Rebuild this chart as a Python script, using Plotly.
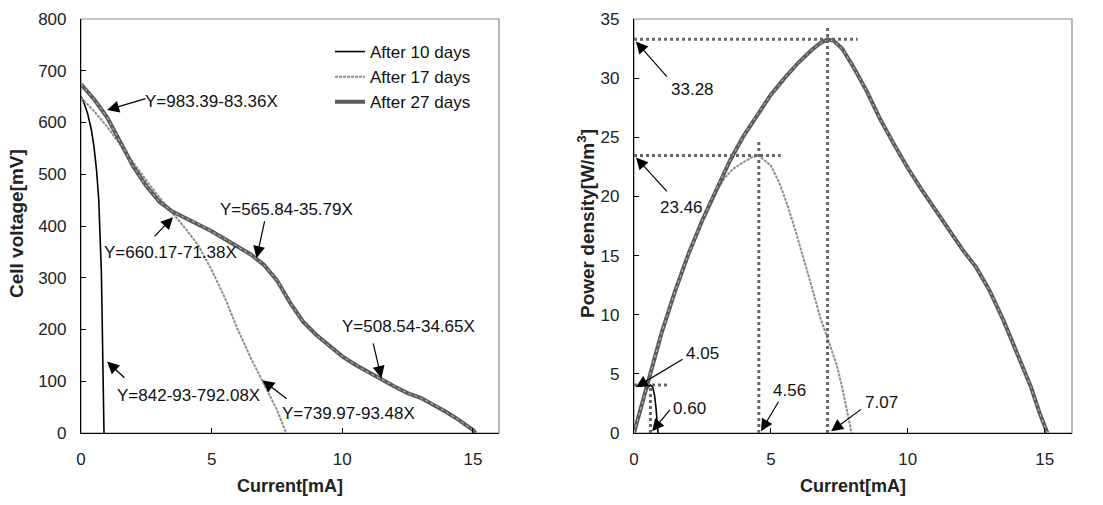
import plotly.graph_objects as go

# ---------------- data ----------------
# Left: cell voltage (mV) vs current (mA)
i10 = [0, 0.1, 0.25, 0.4, 0.5, 0.6, 0.68, 0.74, 0.78, 0.81, 0.83, 0.85, 0.87, 0.88]
v10 = [650, 640, 618, 585, 552, 505, 450, 385, 310, 220, 150, 128, 60, 0]

i17 = [0, 0.5, 1, 1.5, 2, 2.5, 3, 3.5, 4, 4.5, 5, 5.5, 6, 6.5, 7, 7.5, 7.85]
v17 = [648, 622, 592, 557, 522, 488, 455, 425, 395, 362, 315, 262, 200, 145, 95, 45, 0]

i27 = [0, 0.5, 1, 1.5, 2, 2.5, 3, 3.5, 4, 4.5, 5, 5.5, 6, 6.5, 7, 7.5, 8, 8.5, 9,
       9.5, 10, 10.5, 11, 11.5, 12, 12.5, 13, 13.5, 14, 14.5, 15, 15.1]
v27 = [674, 645, 610, 562, 515, 477, 447, 428, 415, 404, 390, 375, 360, 345, 325, 295,
       252, 215, 190, 168, 148, 132, 117, 104, 90, 77, 68, 55, 40, 24, 6, 0]

# Right: power density (W/m3) vs current (mA)
pi10 = [0, 0.1, 0.2, 0.3, 0.4, 0.5, 0.6, 0.68, 0.75, 0.8, 0.84, 0.88]
pd10 = [0, 1.0, 1.9, 2.7, 3.4, 3.85, 4.05, 3.9, 3.2, 2.2, 1.2, 0]

pi17 = [0, 0.5, 1, 1.5, 2, 2.5, 3, 3.3, 3.6, 4, 4.3, 4.56, 5, 5.3, 5.6, 5.9, 6.2, 6.5,
        6.8, 7.1, 7.4, 7.6, 7.8, 7.95]
pd17 = [0, 4.2, 8.3, 11.9, 15.1, 17.9, 20.4, 21.5, 22.3, 22.9, 23.3, 23.46, 22.6, 21.2,
        19.3, 17.1, 14.8, 12.3, 9.8, 7.8, 5.8, 3.9, 1.8, 0]

pi27 = [0, 0.5, 1, 1.5, 2, 2.5, 3, 3.5, 4, 4.5, 5, 5.5, 6, 6.5, 6.8, 7.07, 7.3, 7.6, 8,
        8.5, 9, 9.5, 10, 10.5, 11, 11.5, 12, 12.5, 13, 13.5, 14, 14.5, 14.8, 15.1]
pd27 = [0, 4.3, 8.4, 12.0, 15.2, 18.0, 20.6, 23.0, 25.1, 26.9, 28.6, 30.0, 31.3, 32.4,
        32.95, 33.28, 33.15, 32.5, 31.0, 28.9, 26.5, 24.4, 22.4, 20.6, 18.9, 17.2, 15.5,
        14.0, 12.0, 9.5, 6.7, 3.9, 1.8, 0]

# Peak (maximum power) points
peak_i = [0.60, 4.56, 7.07]
peak_p = [4.05, 23.46, 33.28]
peak_i_labels = ["0.60", "4.56", "7.07"]
peak_p_labels = ["4.05", "23.46", "33.28"]

series_names = ["After 10 days", "After 17 days", "After 27 days"]
fit_labels = ["Y=983.39-83.36X", "Y=565.84-35.79X", "Y=660.17-71.38X",
              "Y=508.54-34.65X", "Y=842-93-792.08X", "Y=739.97-93.48X"]

x_ticks = [0, 5, 10, 15]
v_ticks = [0, 100, 200, 300, 400, 500, 600, 700, 800]
p_ticks = [0, 5, 10, 15, 20, 25, 30, 35]

# ---------------- figure ----------------
FONT = "Liberation Sans, Arial, sans-serif"
W, H = 1103, 505
fig = go.Figure()

C10, C17, C27 = "#000000", "#8e8e8e", "#5a5a5a"
D17 = "3px,1px"

# left panel
fig.add_trace(go.Scatter(x=i10, y=v10, mode="lines", name=series_names[0],
                         line=dict(color=C10, width=1.6), xaxis="x", yaxis="y"))
fig.add_trace(go.Scatter(x=i17, y=v17, mode="lines", name=series_names[1],
                         line=dict(color=C17, width=2, dash=D17), xaxis="x", yaxis="y"))
fig.add_trace(go.Scatter(x=i27, y=v27, mode="lines", name=series_names[2],
                         line=dict(color=C27, width=4), xaxis="x", yaxis="y"))
fig.add_trace(go.Scatter(x=i27, y=v27, mode="lines", showlegend=False, hoverinfo="skip",
                         line=dict(color="#c8c8c8", width=1, dash="dot"), xaxis="x", yaxis="y"))

# right panel
fig.add_trace(go.Scatter(x=pi10, y=pd10, mode="lines", showlegend=False,
                         line=dict(color=C10, width=1.6), xaxis="x2", yaxis="y2"))
fig.add_trace(go.Scatter(x=pi17, y=pd17, mode="lines", showlegend=False,
                         line=dict(color=C17, width=2, dash=D17), xaxis="x2", yaxis="y2"))
fig.add_trace(go.Scatter(x=pi27, y=pd27, mode="lines", showlegend=False,
                         line=dict(color=C27, width=4), xaxis="x2", yaxis="y2"))
fig.add_trace(go.Scatter(x=pi27, y=pd27, mode="lines", showlegend=False, hoverinfo="skip",
                         line=dict(color="#c8c8c8", width=1, dash="dot"), xaxis="x2", yaxis="y2"))

# dotted guide lines at the peaks
h_ext = [0.68, 0.8, 1.1]    # how far horizontal guides extend past the peak
v_ext = [0.0, 1.3, 1.1]     # how far vertical guides extend above the peak
for k in range(3):
    fig.add_trace(go.Scatter(x=[0, peak_i[k] + h_ext[k]], y=[peak_p[k], peak_p[k]], mode="lines",
                             showlegend=False, hoverinfo="skip",
                             line=dict(color="#666666", width=3, dash="dot"),
                             xaxis="x2", yaxis="y2"))
    fig.add_trace(go.Scatter(x=[peak_i[k], peak_i[k]], y=[0, peak_p[k] + v_ext[k]], mode="lines",
                             showlegend=False, hoverinfo="skip",
                             line=dict(color="#666666", width=3, dash="dot"),
                             xaxis="x2", yaxis="y2"))

L_DOM = [81 / W, 499 / W]
R_DOM = [634 / W, 1072 / W]
Y_DOM = [(H - 433) / H, (H - 19) / H]

axis_common = dict(showgrid=False, zeroline=False, ticks="inside", ticklen=5,
                   tickcolor="#000", showline=True, linecolor="#000", linewidth=1.2,
                   automargin=False, ticklabelstandoff=10,
                   tickfont=dict(family=FONT, size=17, color="#222"))

fig.update_layout(
    template="none",
    width=W, height=H, margin=dict(l=0, r=0, t=0, b=0, pad=0),
    paper_bgcolor="white", plot_bgcolor="white",
    font=dict(family=FONT, size=17, color="#000"),
    xaxis=dict(domain=L_DOM, range=[0, 16], tickvals=x_ticks, anchor="y", **axis_common),
    yaxis=dict(domain=Y_DOM, range=[0, 800], tickvals=v_ticks, anchor="x", **axis_common),
    xaxis2=dict(domain=R_DOM, range=[0, 16], tickvals=x_ticks, anchor="y2", **axis_common),
    yaxis2=dict(domain=Y_DOM, range=[0, 35], tickvals=p_ticks, anchor="x2", **axis_common),
    legend=dict(x=330 / W, y=1 - 34 / H, xanchor="left", yanchor="top",
                bgcolor="rgba(0,0,0,0)", font=dict(family=FONT, size=17, color="#111"),
                itemwidth=30, tracegroupgap=0),
    showlegend=True,
)

# gray frame (top/right) for each panel
for xr, yr in (("x domain", "y domain"), ("x2 domain", "y2 domain")):
    fig.add_shape(type="rect", xref=xr, yref=yr, x0=0, x1=1, y0=0, y1=1,
                  line=dict(color="#8a8a8a", width=1.2), layer="below")

ann = []
# axis titles
for dom in (L_DOM, R_DOM):
    ann.append(dict(text="<b>Current[mA]</b>", xref="paper", yref="paper",
                    x=(dom[0] + dom[1]) / 2, y=1 - 486 / H, xanchor="center", yanchor="middle",
                    showarrow=False, font=dict(family=FONT, size=18, color="#222")))
ann.append(dict(text="<b>Cell voltage[mV]</b>", xref="paper", yref="paper",
                x=17 / W, y=1 - 224 / H, xanchor="center", yanchor="middle",
                showarrow=False, textangle=-90,
                font=dict(family=FONT, size=19, color="#222")))
ann.append(dict(text="<b>Power density[W/m<sup>3</sup>]</b>", xref="paper", yref="paper",
                x=586 / W, y=1 - 224 / H, xanchor="center", yanchor="middle",
                showarrow=False, textangle=-90,
                font=dict(family=FONT, size=19, color="#222")))

# fit-equation labels in the left panel: (text pos), (arrow tail), (arrow head)
fit_text_pos = [(5.01, 640), (7.88, 431), (3.41, 348), (12.53, 205), (4.11, 73), (10.23, 38)]
fit_tail = [(2.53, 647), (7.04, 412), (2.76, 377), (11.17, 176), (1.72, 104), (7.93, 64)]
fit_head = [(1.0, 624), (6.72, 338), (3.52, 417), (11.5, 106), (1.0, 138), (6.94, 102)]
for t, (tx, ty), (ax, ay), (hx, hy) in zip(fit_labels, fit_text_pos, fit_tail, fit_head):
    ann.append(dict(text=t, x=tx, y=ty, xref="x", yref="y", showarrow=False,
                    xanchor="center", yanchor="middle",
                    font=dict(family=FONT, size=17, color="#111")))
    ann.append(dict(text="", x=hx, y=hy, xref="x", yref="y", ax=ax, ay=ay,
                    axref="x", ayref="y", showarrow=True, arrowhead=2, arrowsize=2,
                    arrowwidth=1.2, arrowcolor="#000"))

# peak labels in the right panel
pk_labels = [peak_p_labels[2], peak_p_labels[1], peak_p_labels[0],
             peak_i_labels[0], peak_i_labels[1], peak_i_labels[2]]
pk_text_pos = [(2.12, 29.0), (1.72, 19.1), (2.49, 6.74), (2.01, 2.09), (5.68, 3.6), (9.05, 2.6)]
pk_tail = [(1.25, 30.0), (1.25, 20.3), (1.83, 6.32), (1.36, 2.09), (5.31, 2.77), (8.35, 2.09)]
pk_head = [(0.07, 33.1), (0.07, 23.3), (0.07, 3.87), (0.66, 0.15), (4.64, 0.15), (7.2, 0.15)]
for t, (tx, ty), (ax, ay), (hx, hy) in zip(pk_labels, pk_text_pos, pk_tail, pk_head):
    ann.append(dict(text=t, x=tx, y=ty, xref="x2", yref="y2", showarrow=False,
                    xanchor="center", yanchor="middle",
                    font=dict(family=FONT, size=17, color="#111")))
    ann.append(dict(text="", x=hx, y=hy, xref="x2", yref="y2", ax=ax, ay=ay,
                    axref="x2", ayref="y2", showarrow=True, arrowhead=2, arrowsize=2,
                    arrowwidth=1.2, arrowcolor="#000"))

fig.update_layout(annotations=ann)
fig.write_html("out.html", post_script="document.body.style.margin='0px';")
